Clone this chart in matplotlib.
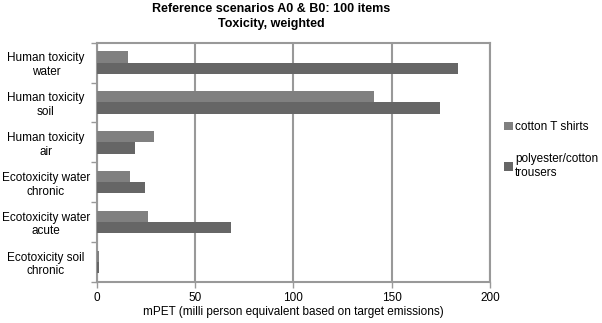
import numpy as np
import matplotlib.pyplot as plt

plt.rcParams['font.family'] = ['Liberation Sans', 'DejaVu Sans']

categories = ['Human toxicity\nwater', 'Human toxicity\nsoil', 'Human toxicity\nair',
              'Ecotoxicity water\nchronic', 'Ecotoxicity water\nacute', 'Ecotoxicity soil\nchronic']
cotton = [16.1, 141.0, 29.0, 17.1, 26.2, 1.0]
polyester = [183.5, 174.4, 19.3, 24.4, 68.4, 1.1]
series_names = ['cotton T shirts', 'polyester/cotton\ntrousers']
xticks = [0, 50, 100, 150, 200]

fig = plt.figure(figsize=(6.02, 3.23), dpi=100)
ax = fig.add_axes([0.1606, 0.127, 0.6534, 0.741])

y = np.arange(len(categories))
h = 0.28
ax.barh(y - h / 2, cotton, height=h, color='#808080', label=series_names[0], zorder=3)
ax.barh(y + h / 2, polyester, height=h, color='#666666', label=series_names[1], zorder=3)

ax.set_xlim(0, 200)
ax.set_ylim(len(categories) - 0.5, -0.5)
ax.set_xticks(xticks)
ax.set_xticklabels([str(t) for t in xticks], fontsize=8.5)
ax.set_yticks(y)
ax.set_yticklabels(categories, fontsize=8.5, ha='center')
ax.tick_params(axis='y', length=0, pad=36.5)
# small ticks between categories
ax.set_yticks(np.arange(len(categories) + 1) - 0.5, minor=True)
ax.tick_params(axis='y', which='minor', length=4, color='#999999', width=1)
ax.tick_params(axis='x', length=4, color='#999999', width=1, pad=3)
ax.grid(axis='x', color='#999999', linewidth=1.5, zorder=0)
for s in ax.spines.values():
    s.set_color('#999999')
    s.set_linewidth(1.5)

ax.set_xlabel('mPET (milli person equivalent based on target emissions)', fontsize=8.5, labelpad=2)

fig.text(0.45, 0.99, 'Reference scenarios A0 & B0: 100 items\nToxicity, weighted',
         ha='center', va='top', fontsize=9, fontweight='bold', linespacing=1.35)

fig.legend(loc='center left', bbox_to_anchor=(0.838, 0.535), frameon=False, fontsize=8.5,
           handlelength=0.7, handleheight=0.7, handletextpad=0.2, labelspacing=1.7,
           borderaxespad=0, borderpad=0)

fig.savefig('out.png', dpi=100)
